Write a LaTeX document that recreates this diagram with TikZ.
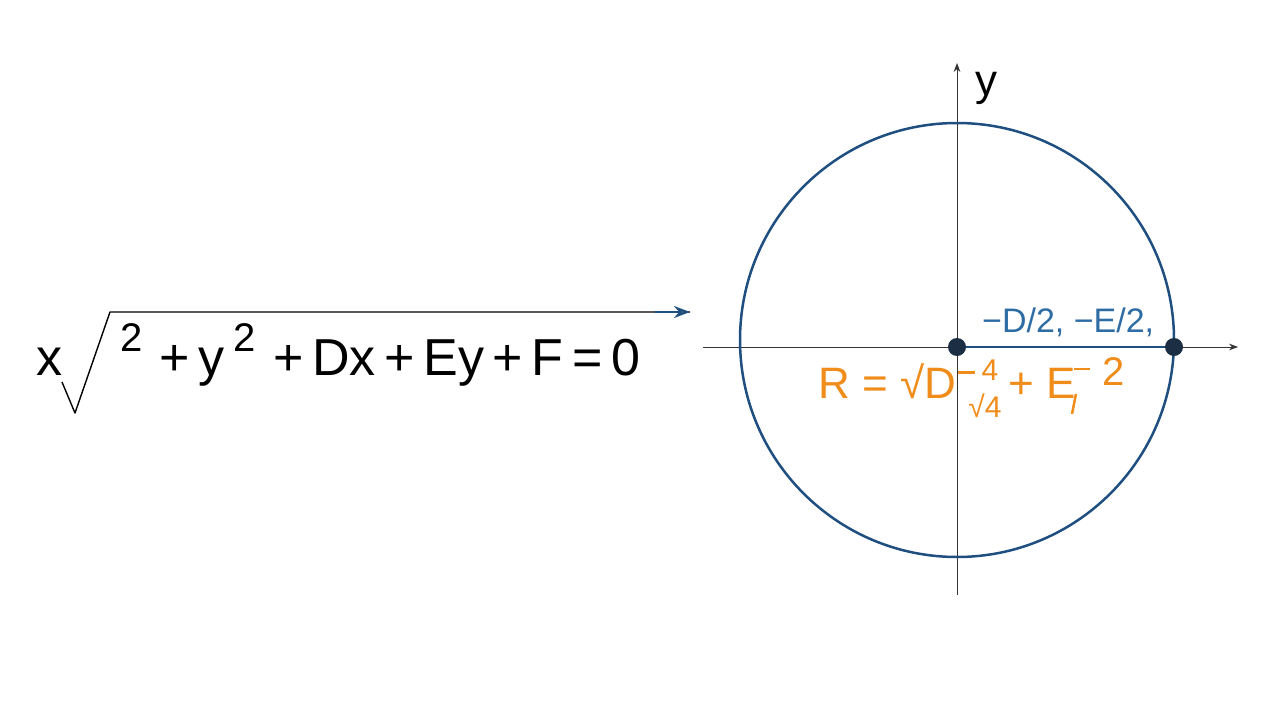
\documentclass[tikz,border=0pt]{standalone}
\usepackage{fontspec}
\setmainfont{Liberation Sans}
\usetikzlibrary{arrows.meta}
\definecolor{cblue}{HTML}{1F4E80}
\definecolor{lblue}{HTML}{2E6DA4}
\definecolor{corange}{HTML}{F08C1A}
\definecolor{cdark}{HTML}{1C2E44}
\begin{document}
\begin{tikzpicture}[x=1pt,y=-1pt,
  eq/.style={font=\fontsize{52}{54}\selectfont,inner sep=0pt},
  orn/.style={font=\fontsize{44}{46}\selectfont,text=corange,inner sep=0pt},
  axis/.style={draw=black!80,line width=1pt},
  dot/.style={circle,fill=cdark,minimum size=18pt,inner sep=0pt}]
\useasboundingbox (0,0) rectangle (1280,720);
% left equation
\node[eq,anchor=base west] (x) at (36,375) {x};
\node[eq,anchor=base west] (rest) at (120,375) {\raisebox{0.45em}{\fontsize{40}{40}\selectfont 2}\,\,+\,y\,\raisebox{0.45em}{\fontsize{40}{40}\selectfont 2}\,\,+\,Dx\,+\,Ey\,+\,F\,=\,0};
\coordinate (rs) at (62,382);
\coordinate (rb) at (75,413);
\coordinate (rt) at (110,312);
\coordinate (re) at (690,312);
\draw[line width=1.4pt,line join=round] (rs) -- (rb) -- (rt) -- (re);
\draw[cblue,line width=2pt,-{Stealth[length=16pt,width=12pt,open,line width=2pt]}] (655,312) -- (re);
% axes
\coordinate (xl) at (703,347); \coordinate (xr) at (1238,347);
\coordinate (yb) at (957,595); \coordinate (yt) at (957,63);
\draw[axis,-{Stealth[length=9pt]}] (xl) -- (xr);
\draw[axis,-{Stealth[length=9pt]}] (yb) -- (yt);
\node[font=\fontsize{44}{44}\selectfont,inner sep=0pt] (ylab) at (986,88) {y};
% circle
\node[draw=cblue,line width=2.5pt,circle,minimum size=434pt,inner sep=0pt] (circ) at (957,340) {};
\node[dot] (c) at (957,347) {};
\node[dot] (p) at (1174,347) {};
\draw[cblue,line width=2.5pt] (c) -- (p);
\node[font=\fontsize{34}{34}\selectfont,text=lblue,anchor=base west,inner sep=0pt] (lab) at (982,332) {−D/2, −E/2,};
% orange formula
\node[orn,anchor=base west] (r1) at (818,398) {R = √D};
\node[font=\fontsize{30}{30}\selectfont,text=corange,inner sep=0pt] (f1) at (990,370) {4};
\node[font=\fontsize{30}{30}\selectfont,text=corange,inner sep=0pt] (f2) at (985,406) {√4};
\draw[corange,line width=3pt] (958,372) -- (975,372);
\node[orn,anchor=base west] (r2) at (1008,398) {+ E};
\draw[corange,line width=2.5pt] (1074,369) -- (1090,369);
\node[font=\fontsize{40}{40}\selectfont,text=corange,inner sep=0pt] (r3) at (1114,372) {2};
\draw[corange,line width=2.5pt] (1076,394) -- (1072,414);
\end{tikzpicture}
\end{document}
